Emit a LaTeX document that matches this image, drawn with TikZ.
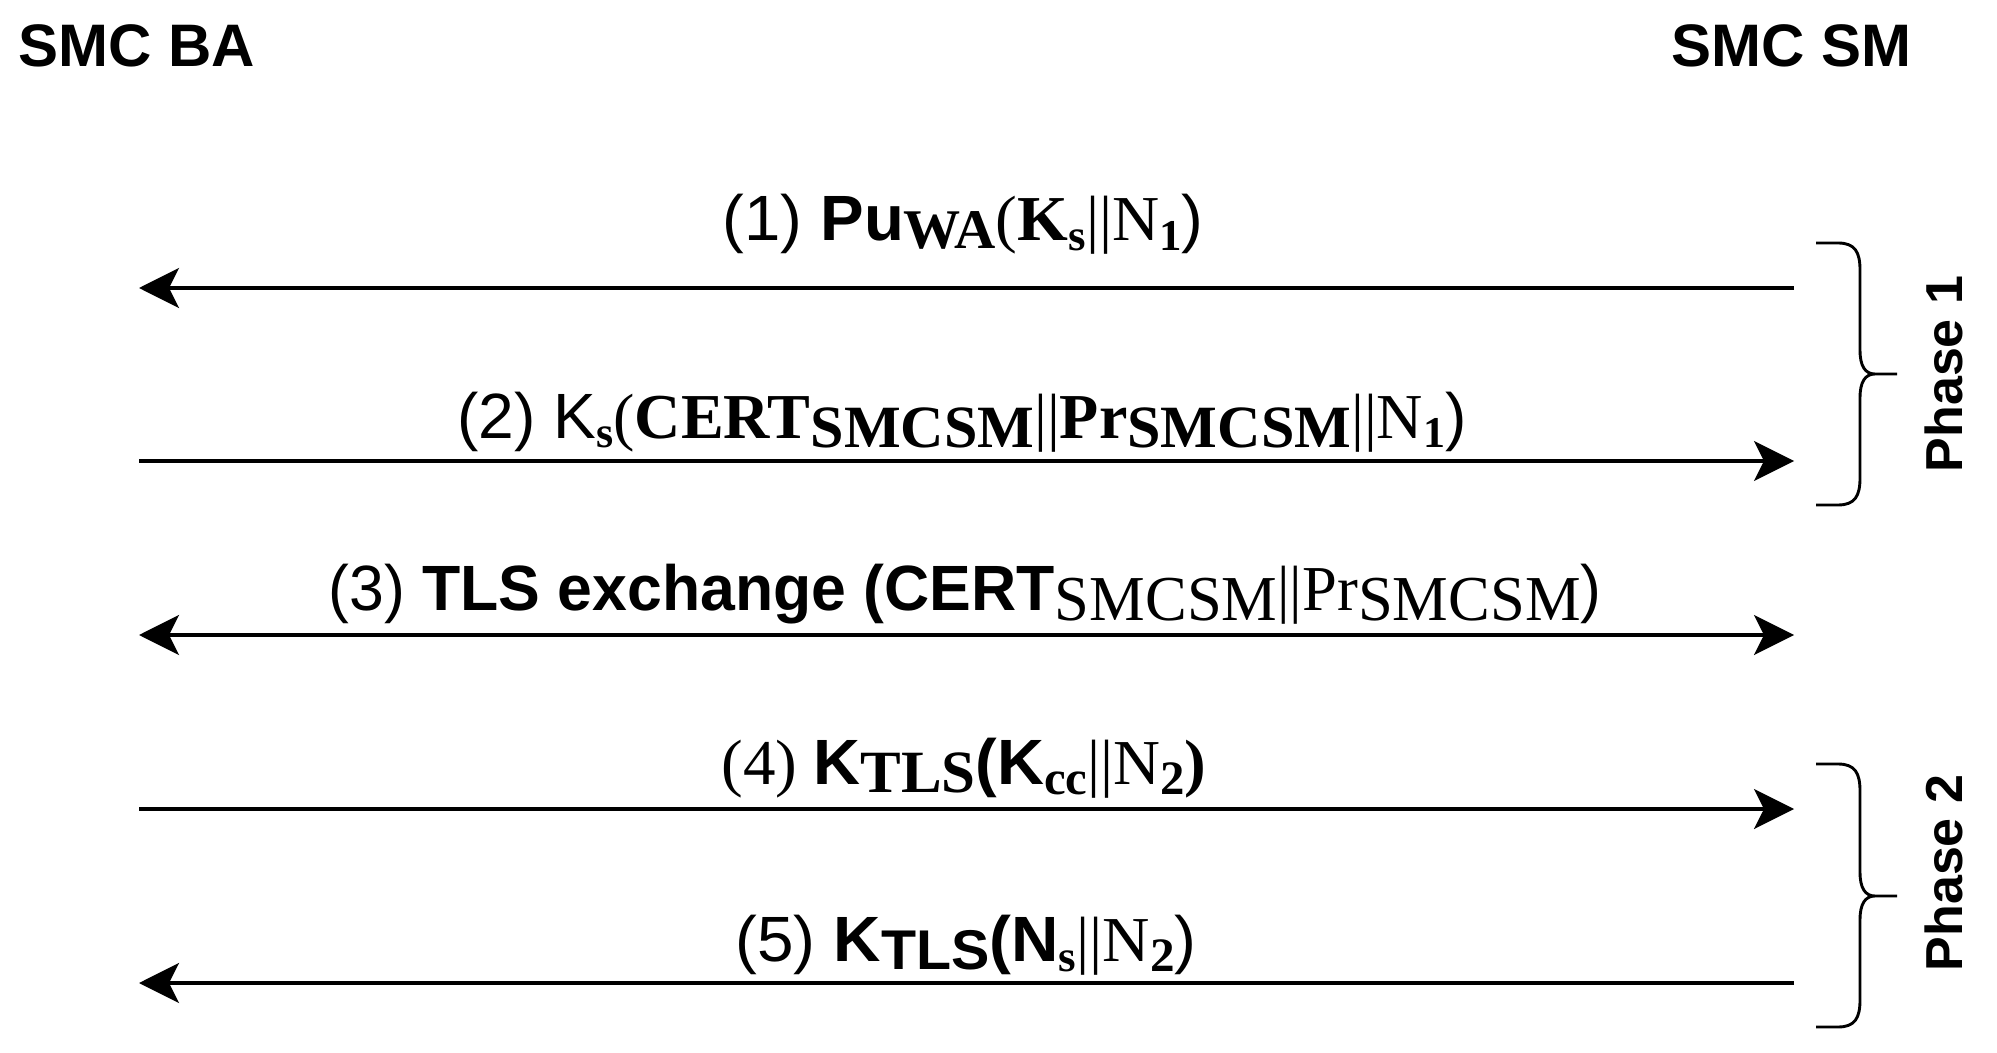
\documentclass[tikz,border=0pt]{standalone}
\usepackage{fontspec}
\usepackage{graphicx}
\setmainfont{Liberation Sans}
\newfontfamily\tnr{Liberation Serif}
\usetikzlibrary{arrows.meta}
\newcommand\fs[1]{\fontsize{#1}{#1}\selectfont}
\newcommand\lowsub[3][5pt]{\raisebox{-#1}{\fs{#2}#3}}
\tikzset{
  msg/.style={line width=1.75pt, -{Stealth[length=20pt,width=20pt,inset=5pt]}},
  msgboth/.style={line width=1.75pt, {Stealth[length=20pt,width=20pt,inset=5pt]}-{Stealth[length=20pt,width=20pt,inset=5pt]}},
  lbl/.style={anchor=base, inner sep=0pt, font=\fs{32}},
  head/.style={inner sep=0pt, font=\bfseries\fs{30}},
  phase/.style={rotate=90, anchor=base, inner sep=0pt, font=\bfseries\fs{26}},
  bracepath/.style={line width=1.45pt}
}
\begin{document}
\begin{tikzpicture}[x=0.5pt,y=-0.5pt]
\useasboundingbox (0,0) rectangle (1997,1053);
% headers
\node[head, anchor=base west] (ba) at (18,67) {SMC BA};
\node[head, anchor=base east] (sm) at (1912,67) {SMC SM};
% arrow end points
\coordinate (ba1) at (139,288); \coordinate (sm1) at (1794,288);
\coordinate (ba2) at (139,461); \coordinate (sm2) at (1794,461);
\coordinate (ba3) at (139,635); \coordinate (sm3) at (1794,635);
\coordinate (ba4) at (139,809); \coordinate (sm4) at (1794,809);
\coordinate (ba5) at (139,983); \coordinate (sm5) at (1794,983);
\draw[msg] (sm1) -- (ba1);
\draw[msg] (ba2) -- (sm2);
\draw[msgboth] (ba3) -- (sm3);
\draw[msg] (ba4) -- (sm4);
\draw[msg] (sm5) -- (ba5);
% labels
\node[lbl] (l1) at (963,241) {\resizebox{240.5pt}{\height}{(1) \textbf{Pu}{\tnr\bfseries\lowsub[4pt]{28}{WA}{\mdseries(}K\lowsub{22}{s}{\mdseries||N}\lowsub{22}{1}})}};
\node[lbl] (l2) at (962,438) {\resizebox{504.5pt}{\height}{(2) K{\tnr\bfseries\lowsub{22}{s}{\mdseries(}CERT\lowsub{30}{SMCSM}{\mdseries||}Pr\lowsub{30}{SMCSM}{\mdseries||N}\lowsub{22}{1}})}};
\node[lbl] (l3) at (965,610) {\resizebox{636.5pt}{\height}{(3) \textbf{TLS exchange (CERT}{\tnr\lowsub{32}{SMCSM}||Pr\lowsub{32}{SMCSM}})}};
\node[lbl] (l4) at (964,784) {\resizebox{242.5pt}{\height}{{\tnr(4) }\textbf{K}{\tnr\bfseries\lowsub[4pt]{30}{TLS}}\textbf{(K}{\tnr\bfseries\lowsub{24}{cc}{\mdseries||N}\lowsub{24}{2})}}};
\node[lbl] (l5) at (966,961) {\resizebox{230.5pt}{\height}{(5) \textbf{K\lowsub[4pt]{28}{TLS}(N}{\tnr\bfseries\lowsub{22}{s}{\mdseries||N}\lowsub{24}{2}})}};
% braces
\draw[bracepath] (1816,243) -- (1838,243) .. controls (1855,243) and (1860,252) .. (1860,270) -- (1860,350) .. controls (1860,366) and (1865,374) .. (1875,374) -- (1897,374)
  (1875,374) .. controls (1865,374) and (1860,382) .. (1860,398) -- (1860,478) .. controls (1860,496) and (1855,505) .. (1838,505) -- (1816,505);
\draw[bracepath] (1816,764) -- (1838,764) .. controls (1855,764) and (1860,773) .. (1860,791) -- (1860,872) .. controls (1860,888) and (1865,896) .. (1875,896) -- (1897,896)
  (1875,896) .. controls (1865,896) and (1860,904) .. (1860,920) -- (1860,1000) .. controls (1860,1018) and (1855,1027) .. (1838,1027) -- (1816,1027);
\node[phase] (p1) at (1962,374) {Phase 1};
\node[phase] (p2) at (1962,873) {Phase 2};
\end{tikzpicture}
\end{document}
